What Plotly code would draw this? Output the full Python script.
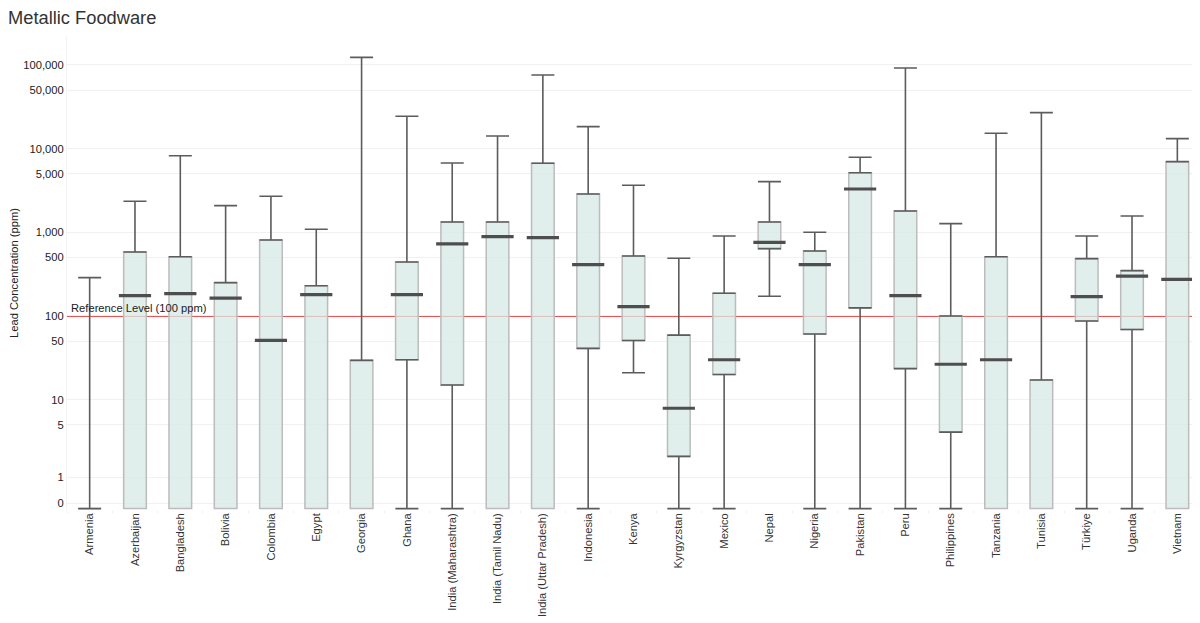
import plotly.graph_objects as go

# values (ppm); 0 means no lead detected
countries = ["Armenia", "Azerbaijan", "Bangladesh", "Bolivia", "Colombia", "Egypt",
             "Georgia", "Ghana", "India (Maharashtra)", "India (Tamil Nadu)",
             "India (Uttar Pradesh)", "Indonesia", "Kenya", "Kyrgyzstan", "Mexico",
             "Nepal", "Nigeria", "Pakistan", "Peru", "Philippines", "Tanzania",
             "Tunisia", "Türkiye", "Uganda", "Vietnam"]

lower = [0, 0, 0, 0, 0, 0, 0, 0, 0, 0, 0, 0, 21, 0, 0, 172, 0, 0, 0, 0, 0, 0, 0, 0, 0]
q1 = [0, 0, 0, 0, 0, 0, 0, 30, 15, 0, 0, 41, 51, 2.1, 20, 637, 61, 125, 23.5, 4.1,
      0, 0, 87, 69, 0]
median = [0, 175, 185, 163, 51, 180, 0, 180, 725, 887, 862, 410, 129, 7.9, 30, 759,
          410, 3290, 175, 26.5, 30, 0, 170, 300, 274]
q3 = [0, 582, 511, 250, 809, 230, 29.5, 442, 1327, 1327, 6670, 2870, 521, 59, 187,
      1327, 598, 5150, 1796, 100, 511, 17.2, 484, 348, 6980]
upper = [287, 2345, 8225, 2080, 2692, 1085, 123000, 24300, 6730, 14150, 75700, 18300,
         3640, 489, 903, 4030, 1000, 7870, 91800, 1268, 15240, 26850, 903, 1566, 13140]

reference_level = 100

tick_vals = [0.58, 1.18, 5, 10, 50, 100, 500, 1000, 5000, 10000, 50000, 100000]
tick_text = ["0", "1", "5", "10", "50", "100", "500", "1,000", "5,000", "10,000",
             "50,000", "100,000"]

ZERO = 0.5  # where zero sits on the log axis

FONT = "Liberation Sans, Arial, Helvetica, sans-serif"


def pos(v):
    return v if v > 0 else ZERO


box_low = [pos(v) for v in q1]
box_high = [pos(v) for v in q3]

fig = go.Figure()

# boxes (q1 -> q3)
fig.add_trace(go.Bar(
    x=countries,
    y=[h - l for h, l in zip(box_high, box_low)],
    base=box_low,
    width=0.5,
    marker=dict(color="rgba(214,234,229,0.75)",
                line=dict(color="#bcbcbc", width=1.5)),
    hoverinfo="skip",
))

# upper whisker, from q3 to the max
fig.add_trace(go.Scatter(
    x=countries,
    y=box_high,
    mode="markers",
    marker=dict(size=1, color="rgba(0,0,0,0)"),
    error_y=dict(type="data", symmetric=False,
                 array=[pos(u) - h for u, h in zip(upper, box_high)],
                 arrayminus=[0] * len(countries),
                 color="#5c5c5c", thickness=1.6, width=11.5),
    hoverinfo="skip",
))

# lower whisker, from q1 down to the min (only where q1 is above zero)
fig.add_trace(go.Scatter(
    x=countries,
    y=[v if v > 0 else None for v in q1],
    mode="markers",
    marker=dict(size=1, color="rgba(0,0,0,0)"),
    error_y=dict(type="data", symmetric=False,
                 array=[0] * len(countries),
                 arrayminus=[(v - pos(l)) if v > 0 else 0 for v, l in zip(q1, lower)],
                 color="#5c5c5c", thickness=1.6, width=11.5),
    hoverinfo="skip",
))

# medians
fig.add_trace(go.Scatter(
    x=countries,
    y=[m if m > 0 else None for m in median],
    mode="markers",
    marker=dict(symbol="line-ew", size=23,
                line=dict(color="#4e4e4e", width=3.2)),
    hoverinfo="skip",
))

fig.add_shape(type="line", xref="paper", x0=0, x1=1,
              yref="y", y0=reference_level, y1=reference_level,
              line=dict(color="#e45756", width=2), layer="below")
fig.add_annotation(
    x=0, xref="paper", xanchor="left", xshift=2,
    y=2, yref="y", yanchor="bottom",
    text="Reference Level (100 ppm)", showarrow=False,
    font=dict(family=FONT, size=11.2, color="#222"),
)

# page body has an 8px margin, so the figure is a little smaller than the window
fig.update_layout(
    width=1192, height=615,
    title=dict(text="Metallic Foodware", x=0, xref="container", xanchor="left",
               y=0.985, yref="container", yanchor="middle",
               font=dict(family=FONT, size=18.3, color="#333")),
    font=dict(family=FONT, size=11.2, color="#333"),
    plot_bgcolor="white",
    paper_bgcolor="white",
    showlegend=False,
    margin=dict(l=59, r=0, t=28, b=113),
    xaxis=dict(
        automargin=False,
        range=[-0.5, len(countries) - 0.5],
        tickangle=-90,
        ticks="outside", tickson="boundaries", ticklen=2, tickcolor="#eeeeee",
        showgrid=False,
        tickfont=dict(size=11.2, color="#333"),
    ),
    yaxis=dict(
        automargin=False,
        type="log",
        range=[-0.318, 5.345],
        tickvals=tick_vals,
        ticktext=tick_text,
        showgrid=True, gridcolor="#f1f1f1", gridwidth=1,
        zeroline=False,
        showline=True, linecolor="#f3f3f3",
        title=dict(text="Lead Concentration (ppm)", standoff=6,
                   font=dict(size=11.2, color="#222")),
        tickfont=dict(size=11.2, color="#222"),
    ),
)

fig.write_html("out.html")
